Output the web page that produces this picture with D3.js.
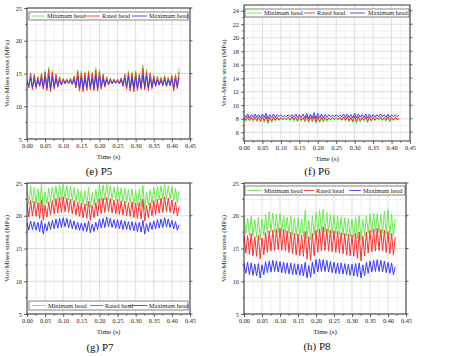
<!DOCTYPE html>
<html><head><meta charset="utf-8">
<script src="https://cdn.jsdelivr.net/npm/d3@7/dist/d3.min.js"></script>
<style>html,body{margin:0;padding:0;background:#fff}svg{display:block}</style>
</head><body>
<svg id="c" width="474" height="356"></svg>
<script>
// ---------- DATA ----------
const seriesNames = ["Minimum head", "Rated head", "Maximum head"];
const timeStep = 0.005;
const xTicks = [0, 0.05, 0.10, 0.15, 0.20, 0.25, 0.30, 0.35, 0.40, 0.45];
const yTicksA = [5, 10, 15, 20, 25];
const yTicksF = [6, 8, 10, 12, 14, 16, 18, 20, 22, 24];
const panelLabels = ["(e) P5", "(f) P6", "(g) P7", "(h) P8"];

const p5Min = [14.2,13.0,15.0,12.8,14.9,13.0,14.6,13.2,15.1,12.9,15.4,12.7,16.0,12.6,15.5,12.9,15.0,13.2,14.6,13.4,14.3,13.6,14.2,13.7,14.3,13.5,14.7,13.0,15.6,12.5,15.4,12.4,15.3,12.6,15.5,12.7,15.2,12.6,15.9,12.5,15.6,12.8,15.0,13.1,14.5,13.4,14.3,13.6,14.2,13.6,14.2,13.5,14.4,13.2,15.0,12.8,15.4,12.5,15.2,12.4,15.5,12.6,15.0,12.8,16.3,12.7,15.6,12.6,15.2,12.9,14.8,13.2,14.6,13.4,14.5,13.3,14.7,13.2,14.5,13.3,14.8,12.6,14.9,12.9,15.8];
const p5Rated = [13.9,12.8,15.0,12.5,14.8,12.7,14.4,13.0,14.9,12.6,15.2,12.4,15.6,12.2,15.2,12.6,14.8,12.9,14.4,13.2,14.2,13.4,14.1,13.5,14.2,13.3,14.5,12.8,15.3,12.3,15.1,12.2,15.0,12.4,15.2,12.5,15.0,12.4,15.5,12.3,15.3,12.6,14.8,12.9,14.4,13.2,14.2,13.4,14.1,13.5,14.1,13.4,14.3,13.0,14.8,12.6,15.1,12.3,15.0,12.2,15.2,12.4,14.8,12.6,15.8,12.5,15.3,12.4,15.0,12.7,14.6,13.0,14.4,13.2,14.3,13.1,14.5,13.0,14.3,13.1,14.6,12.3,14.7,12.7,15.2];
const p5Max = [13.7,13.2,14.3,12.9,14.2,13.0,14.0,13.2,14.3,12.9,14.5,12.8,14.7,12.7,14.5,12.9,14.2,13.1,14.0,13.3,13.9,13.5,13.9,13.5,13.9,13.4,14.1,13.1,14.5,12.8,14.4,12.7,14.3,12.9,14.5,12.9,14.3,12.8,14.7,12.8,14.6,13.0,14.2,13.2,14.0,13.4,13.9,13.5,13.9,13.5,13.9,13.5,14.0,13.3,14.3,13.0,14.5,12.8,14.4,12.7,14.5,12.8,14.3,12.9,14.8,12.9,14.6,12.8,14.4,13.0,14.1,13.2,14.0,13.3,13.9,13.3,14.1,13.2,14.0,13.3,14.1,12.9,14.2,13.0,14.4];

const p6Min = [8.2,7.6,8.3,7.7,8.2,7.5,8.1,7.6,8.3,7.5,8.2,7.4,8.3,7.2,8.2,7.4,8.1,7.6,8.2,7.7,8.1,7.8,8.1,7.8,8.2,7.7,8.2,7.6,8.3,7.5,8.2,7.6,8.1,7.5,8.3,7.4,8.2,7.5,8.4,7.3,8.3,7.4,8.2,7.5,8.1,7.6,8.1,7.7,8.2,7.8,8.1,7.8,8.2,7.7,8.2,7.6,8.3,7.5,8.2,7.4,8.3,7.3,8.2,7.5,8.1,7.6,8.3,7.4,8.2,7.6,8.2,7.7,8.1,7.8,8.2,7.7,8.1,7.6,8.2,7.5,8.1,7.7,8.2,7.8,8.0];
const p6Rated = [8.2,7.8,8.3,7.7,8.2,7.8,8.3,7.7,8.2,7.6,8.3,7.7,8.4,7.5,8.2,7.7,8.3,7.8,8.2,7.8,8.2,7.9,8.1,7.9,8.2,7.8,8.3,7.8,8.2,7.7,8.3,7.8,8.2,7.7,8.4,7.6,8.3,7.7,8.4,7.5,8.3,7.6,8.2,7.7,8.2,7.8,8.1,7.9,8.2,7.9,8.2,7.9,8.2,7.8,8.3,7.8,8.3,7.7,8.2,7.6,8.4,7.6,8.3,7.7,8.2,7.8,8.3,7.6,8.3,7.7,8.2,7.8,8.2,7.9,8.3,7.8,8.2,7.8,8.3,7.7,8.2,7.8,8.2,7.9,8.0];
const p6Max = [8.6,8.2,8.7,8.1,8.6,8.2,8.7,8.2,8.6,8.1,8.7,8.2,8.8,8.0,8.6,8.2,8.7,8.2,8.6,8.3,8.6,8.3,8.5,8.3,8.6,8.3,8.6,8.2,8.7,8.2,8.6,8.2,8.7,8.1,8.8,8.0,8.7,8.1,8.9,8.0,8.8,8.1,8.7,8.1,8.6,8.2,8.6,8.3,8.5,8.3,8.6,8.3,8.6,8.3,8.7,8.2,8.7,8.2,8.6,8.1,8.8,8.1,8.7,8.2,8.6,8.2,8.7,8.1,8.7,8.2,8.6,8.2,8.6,8.3,8.7,8.3,8.6,8.2,8.7,8.2,8.6,8.3,8.6,8.3,8.5];

const p7Min = [24.0,21.8,24.6,22.0,24.3,21.9,24.1,21.3,24.8,20.8,23.6,21.8,24.2,22.0,24.4,22.2,24.5,22.3,24.7,22.5,24.8,22.6,24.6,22.4,24.5,22.3,24.3,22.1,24.1,21.9,23.9,21.7,23.8,21.5,24.3,21.2,23.5,21.6,24.0,21.9,24.9,22.2,24.7,22.4,24.8,22.5,24.6,22.4,24.4,22.3,24.5,22.2,24.3,22.1,24.2,22.0,24.0,21.9,24.1,21.7,23.9,21.5,24.0,21.4,24.6,20.9,23.6,21.6,24.0,21.9,24.3,22.2,24.5,22.4,24.6,22.5,24.8,22.6,24.6,22.5,24.4,22.3,24.2,22.0,23.8];
const p7Rated = [22.0,19.8,22.3,20.0,22.2,19.9,22.0,19.6,22.4,19.3,21.6,19.8,22.1,20.1,22.3,20.3,22.6,20.4,22.8,20.5,22.9,20.6,22.7,20.5,22.5,20.3,22.3,20.1,22.1,19.9,21.9,19.7,21.8,19.6,22.2,19.3,21.6,19.7,22.0,20.0,22.6,20.3,22.7,20.5,22.8,20.6,22.6,20.4,22.4,20.3,22.5,20.2,22.3,20.1,22.2,20.0,22.0,19.9,22.1,19.7,21.9,19.6,22.0,19.5,22.5,19.2,21.6,19.7,22.0,20.0,22.3,20.2,22.5,20.4,22.7,20.5,22.9,20.6,22.7,20.5,22.4,20.3,22.1,20.0,21.4];
const p7Max = [19.0,17.8,19.2,17.9,19.1,17.8,19.0,17.6,19.3,17.2,18.8,17.7,19.1,17.9,19.3,18.0,19.5,18.1,19.6,18.2,19.7,18.3,19.6,18.2,19.4,18.0,19.2,17.9,19.0,17.8,18.9,17.7,18.9,17.6,19.2,17.4,18.7,17.6,19.0,17.9,19.5,18.1,19.6,18.2,19.8,18.3,19.6,18.2,19.4,18.1,19.4,18.0,19.3,17.9,19.2,17.9,19.1,17.8,19.1,17.7,19.0,17.6,19.0,17.5,19.3,17.2,18.8,17.6,19.0,17.9,19.2,18.0,19.4,18.1,19.5,18.2,19.7,18.3,19.5,18.2,19.3,18.0,19.1,17.8,18.6];

const p8Min = [19.8,17.2,19.6,17.0,19.9,16.9,19.4,16.7,19.8,16.3,19.5,17.0,20.2,17.4,20.6,17.6,20.4,17.5,20.2,17.4,20.3,17.5,20.0,17.3,19.8,17.2,19.9,17.0,19.6,17.0,19.7,16.9,19.5,16.8,20.8,16.4,19.3,16.3,20.0,17.0,20.5,17.4,20.9,17.6,21.0,17.5,20.5,17.4,20.2,17.3,20.1,17.2,20.0,17.1,19.8,17.0,19.7,16.9,19.6,16.8,19.5,16.7,19.8,16.5,20.0,16.2,19.4,16.9,20.0,17.3,20.3,17.5,20.4,17.5,20.3,17.4,20.2,17.3,20.7,17.2,20.9,17.0,20.2,16.9,19.5];
const p8Rated = [17.2,14.3,17.0,14.1,17.3,13.9,16.8,13.8,17.0,13.4,16.6,14.0,17.4,14.4,17.7,14.6,17.8,14.7,18.0,14.8,18.1,14.7,17.9,14.6,17.7,14.4,17.5,14.2,17.3,14.0,17.2,13.9,17.0,13.8,17.6,13.4,16.8,13.2,17.3,13.9,17.8,14.4,18.0,14.6,18.3,14.7,18.0,14.6,17.8,14.5,17.7,14.4,17.6,14.3,17.4,14.2,17.3,14.0,17.2,13.9,17.1,13.8,17.3,13.5,17.5,13.1,16.9,13.9,17.5,14.3,17.8,14.5,18.0,14.6,18.1,14.7,17.9,14.6,17.8,14.4,17.6,14.2,17.3,14.0,16.8];
const p8Max = [12.8,11.2,12.9,11.0,12.8,10.9,12.6,10.8,12.7,10.5,12.5,11.0,13.0,11.3,13.1,11.4,13.2,11.5,13.1,11.4,13.0,11.3,12.9,11.2,12.8,11.1,12.8,11.0,12.7,11.0,12.6,10.9,12.6,10.8,12.9,10.5,12.4,10.6,12.9,11.1,13.3,11.4,13.4,11.5,13.3,11.5,13.2,11.4,13.0,11.3,12.9,11.2,12.8,11.1,12.8,11.1,12.7,11.0,12.6,10.9,12.6,10.8,12.7,10.7,12.8,10.5,12.5,10.8,12.9,11.2,13.1,11.4,13.2,11.5,13.3,11.5,13.2,11.4,13.1,11.3,12.9,11.2,12.8,11.0,12.2];

// ---------- LAYOUT ----------
const colors = ["#6ce852", "#ff3030", "#3a3aff"];
const FONT = "'Liberation Serif', 'DejaVu Serif', serif";
const panels = [
  {series:[p5Min,p5Rated,p5Max], label:panelLabels[0], L:27, R:190, T:8, B:139, yDom:[5,25], yTicks:yTicksA, yMinorStep:2.5,
   capX:99, capY:175, leg:{x0:29,x1:188,y0:12,y1:20, items:[[32,45,47],[86,100,102],[132,147,149]]}},
  {series:[p6Min,p6Rated,p6Max], label:panelLabels[1], L:244, R:410, T:5, B:141, yDom:[4.7,24.85], yTicks:yTicksF, yMinorStep:1,
   capX:317, capY:175, leg:{x0:245,x1:409,y0:9,y1:17, items:[[247,262,264],[304,315,317],[350,365,368]]}},
  {series:[p7Min,p7Rated,p7Max], label:panelLabels[2], L:27, R:190, T:183, B:314, yDom:[5,25], yTicks:yTicksA, yMinorStep:2.5,
   capX:100, capY:351, leg:{x0:29,x1:188,y0:301,y1:310, items:[[32,46,48],[90,103,105],[128,147,149]]}},
  {series:[p8Min,p8Rated,p8Max], label:panelLabels[3], L:244, R:406, T:183, B:314, yDom:[5,25], yTicks:yTicksA, yMinorStep:2.5,
   capX:317, capY:350, leg:{x0:245,x1:405,y0:186,y1:195, items:[[247,262,264],[304,314,316],[349,361,363]]}}
];

const svg = d3.select("#c");

panels.forEach((p, pi) => {
  const x = d3.scaleLinear().domain([0, 0.45]).range([p.L, p.R]);
  const y = d3.scaleLinear().domain(p.yDom).range([p.B, p.T]);
  const g = svg.append("g");

  // grid
  const xMinor = d3.range(0, 0.4501, 0.025);
  g.selectAll(".gx").data(xMinor).enter().append("line")
    .attr("x1", d => x(d)).attr("x2", d => x(d)).attr("y1", p.T).attr("y2", p.B)
    .attr("stroke", (d,i) => i % 2 === 0 ? "#d6d6d6" : "#ebebeb").attr("stroke-width", 0.8);
  const yMinor = d3.range(Math.ceil(p.yDom[0] / p.yMinorStep) * p.yMinorStep, p.yDom[1] + 1e-6, p.yMinorStep);
  g.selectAll(".gy").data(yMinor).enter().append("line")
    .attr("x1", p.L).attr("x2", p.R).attr("y1", d => y(d)).attr("y2", d => y(d))
    .attr("stroke", d => p.yTicks.some(t => Math.abs(t - d) < 1e-6) ? "#d6d6d6" : "#ebebeb").attr("stroke-width", 0.8);

  // clip
  const cid = "clip" + pi;
  svg.append("clipPath").attr("id", cid).append("rect")
    .attr("x", p.L).attr("y", p.T).attr("width", p.R - p.L).attr("height", p.B - p.T);

  const line = d3.line().x((d, i) => x(i * timeStep)).y(d => y(d));
  p.series.forEach((s, si) => {
    g.append("path").datum(s).attr("d", line).attr("clip-path", `url(#${cid})`)
      .attr("fill", "none").attr("stroke", colors[si]).attr("stroke-width", 1.0)
      .attr("stroke-linejoin", "miter");
  });

  // axes
  const xAxis = d3.axisBottom(x).tickValues(xTicks).tickFormat(d3.format(".2f")).tickSize(3).tickPadding(2);
  const gx = g.append("g").attr("transform", `translate(0,${p.B})`).call(xAxis);
  const yAxis = d3.axisLeft(y).tickValues(p.yTicks).tickFormat(d3.format("d")).tickSize(3).tickPadding(2);
  const gy = g.append("g").attr("transform", `translate(${p.L},0)`).call(yAxis);
  [gx, gy].forEach(a => {
    a.select(".domain").remove();
    a.selectAll("line").attr("stroke", "#222").attr("stroke-width", 0.7);
    a.selectAll("text").attr("font-family", FONT).attr("font-size", 6.3).attr("fill", "#222");
  });
  // minor ticks
  g.selectAll(".mx").data(xMinor.filter((d,i) => i % 2 === 1)).enter().append("line")
    .attr("x1", d => x(d)).attr("x2", d => x(d)).attr("y1", p.B).attr("y2", p.B + 1.8)
    .attr("stroke", "#222").attr("stroke-width", 0.6);
  g.selectAll(".my").data(yMinor.filter(d => !p.yTicks.some(t => Math.abs(t - d) < 1e-6))).enter().append("line")
    .attr("x1", p.L - 1.8).attr("x2", p.L).attr("y1", d => y(d)).attr("y2", d => y(d))
    .attr("stroke", "#222").attr("stroke-width", 0.6);
  // right mirror ticks
  g.selectAll(".ry").data(p.yTicks).enter().append("line")
    .attr("x1", p.R).attr("x2", p.R + 2.5).attr("y1", d => y(d)).attr("y2", d => y(d))
    .attr("stroke", "#222").attr("stroke-width", 0.7);

  // frame
  g.append("rect").attr("x", p.L).attr("y", p.T).attr("width", p.R - p.L).attr("height", p.B - p.T)
    .attr("fill", "none").attr("stroke", "#222").attr("stroke-width", 0.9);

  // titles
  g.append("text").attr("x", (p.L + p.R) / 2).attr("y", p.B + 20)
    .attr("text-anchor", "middle").attr("font-family", FONT).attr("font-size", 7).attr("fill", "#222").text("Time (s)");
  g.append("text").attr("transform", `translate(${p.L - 18},${(p.T + p.B) / 2}) rotate(-90)`)
    .attr("text-anchor", "middle").attr("font-family", FONT).attr("font-size", 7).attr("fill", "#222")
    .text("Von-Mises stress (MPa)");
  g.append("text").attr("x", p.capX).attr("y", p.capY).attr("text-anchor", "middle")
    .attr("font-family", FONT).attr("font-size", 11).attr("fill", "#111").text(p.label);

  // legend
  const lg = p.leg;
  g.append("rect").attr("x", lg.x0).attr("y", lg.y0).attr("width", lg.x1 - lg.x0).attr("height", lg.y1 - lg.y0)
    .attr("fill", "#fff").attr("stroke", "#333").attr("stroke-width", 0.6);
  const my = (lg.y0 + lg.y1) / 2;
  lg.items.forEach((it, k) => {
    g.append("line").attr("x1", it[0]).attr("x2", it[1]).attr("y1", my).attr("y2", my)
      .attr("stroke", colors[k]).attr("stroke-width", 0.9);
    g.append("text").attr("x", it[2]).attr("y", my + 2.1).attr("font-family", FONT).attr("font-size", 6.3)
      .attr("fill", "#222").text(seriesNames[k]);
  });
});
</script>
</body></html>
